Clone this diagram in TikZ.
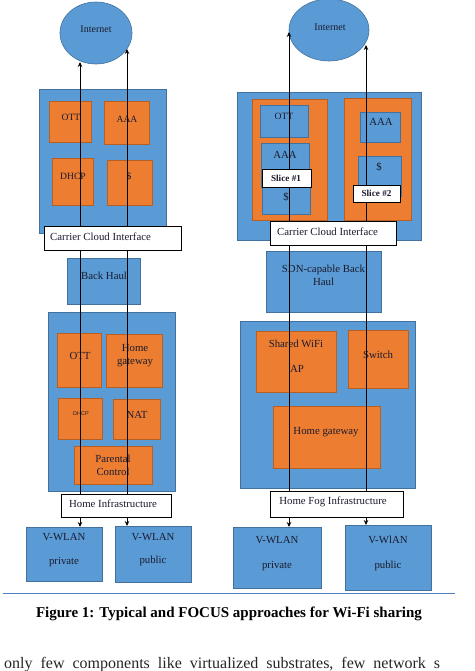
\documentclass[tikz,border=0pt]{standalone}
\usepackage{fontspec}
\setmainfont{Liberation Serif}
\newfontfamily\smallsans{Liberation Sans}
\usetikzlibrary{arrows.meta,shapes.geometric}
\definecolor{bfill}{HTML}{5B9BD5}
\definecolor{bdraw}{HTML}{41719C}
\definecolor{ofill}{HTML}{ED7D31}
\definecolor{odraw}{HTML}{B65F24}
\definecolor{tcol}{HTML}{1A1A2E}
\definecolor{rule}{HTML}{4F7FC0}
\tikzset{
  bluebox/.style={draw=bdraw,fill=bfill,line width=0.6pt,inner sep=0pt,outer sep=0pt,rectangle},
  orangebox/.style={draw=odraw,fill=ofill,line width=0.6pt,inner sep=0pt,outer sep=0pt,rectangle},
  whitebox/.style={draw=black,fill=white,line width=0.7pt,inner sep=0pt,outer sep=0pt,rectangle},
  cloud/.style={ellipse,draw=bdraw,fill=bfill,line width=0.6pt,inner sep=0pt,outer sep=0pt},
  txt/.style={text=tcol,font=\fontsize{10.8}{13}\selectfont,inner sep=0pt,align=center},
  stxt/.style={text=tcol,font=\fontsize{9.6}{11}\selectfont,inner sep=0pt,align=center},
  link/.style={draw=black,line width=0.9pt,{Stealth[length=5pt,width=4.5pt]}-{Stealth[length=5pt,width=4.5pt]}},
}
\begin{document}
\begin{tikzpicture}[x=1pt,y=-1pt]
\fill[white] (0,0) rectangle (474,671);
\useasboundingbox (0,0) rectangle (474,671);
%% ---------------- left (typical) ----------------
\node[cloud,minimum width=72pt,minimum height=62pt] (inet1) at (96,33) {};
\node[txt,font=\fontsize{10}{12}\selectfont] (inet1t) at (96,29) {Internet};
\node[bluebox,minimum width=127pt,minimum height=144pt] (cloud1) at (102.5,161) {};
\node[orangebox,minimum width=42pt,minimum height=41pt] (ott1) at (70,121.5) {};
\node[stxt] (ott1t) at (71,117) {OTT};
\node[orangebox,minimum width=45pt,minimum height=43pt] (aaa1) at (126.5,122.5) {};
\node[stxt] (aaa1t) at (127,119) {AAA};
\node[orangebox,minimum width=41pt,minimum height=47pt] (dhcp1) at (72.5,181.5) {};
\node[stxt] (dhcp1t) at (73,176) {DHCP};
\node[orangebox,minimum width=45pt,minimum height=45pt] (dol1) at (129.5,182.5) {};
\node[stxt] (dol1t) at (129,176) {\$};
\node[bluebox,minimum width=73pt,minimum height=46pt] (bh1) at (103.5,281) {};
\node[txt] (bh1t) at (104,276) {Back Haul};
\node[bluebox,minimum width=127pt,minimum height=179pt] (home1) at (111.5,401.5) {};
\node[orangebox,minimum width=44pt,minimum height=54pt] (ott1b) at (79,360) {};
\node[txt] (ott1bt) at (80,356) {OTT};
\node[orangebox,minimum width=56pt,minimum height=53pt] (hg1) at (134,360.5) {};
\node[txt] (hg1t) at (135,356) {Home\\gateway};
\node[orangebox,minimum width=44pt,minimum height=41pt] (dhcp1b) at (80,418.5) {};
\node[text=tcol,font=\smallsans\fontsize{5.5}{6}\selectfont,inner sep=0pt] (dhcp1bt) at (81,414) {DHCP};
\node[orangebox,minimum width=47pt,minimum height=40pt] (nat1) at (136.5,419) {};
\node[txt] (nat1t) at (137,415) {NAT};
\node[orangebox,minimum width=78pt,minimum height=38pt] (pc1) at (113,465) {};
\node[txt] (pc1t) at (113,465) {Parental\\Control};
\node[bluebox,minimum width=76pt,minimum height=54pt] (vp1) at (64,554) {};
\node[txt] (vp1t) at (64,537) {V-WLAN};
\node[txt] (vp1s) at (64,562) {private};
\node[bluebox,minimum width=76pt,minimum height=56pt] (vq1) at (153,554) {};
\node[txt] (vq1t) at (153,537) {V-WLAN};
\node[txt] (vq1s) at (153,561) {public};
%% ---------------- right (FOCUS) ----------------
\node[cloud,minimum width=80pt,minimum height=62pt] (inet2) at (329,30) {};
\node[txt,font=\fontsize{10}{12}\selectfont] (inet2t) at (330,27) {Internet};
\node[bluebox,minimum width=184pt,minimum height=148pt] (cloud2) at (329,166) {};
\node[orangebox,minimum width=75pt,minimum height=121pt] (sl1) at (289.5,159.5) {};
\node[orangebox,minimum width=67pt,minimum height=122pt] (sl2) at (377.5,159) {};
\node[bluebox,minimum width=48pt,minimum height=32pt] (ott2) at (284,121) {};
\node[stxt] (ott2t) at (284,116) {OTT};
\node[bluebox,minimum width=48pt,minimum height=44pt] (aaa2) at (285,165) {};
\node[txt] (aaa2t) at (285,155) {AAA};
\node[bluebox,minimum width=48pt,minimum height=27pt] (dol2) at (286,200.5) {};
\node[txt] (dol2t) at (286,197) {\$};
\node[bluebox,minimum width=40pt,minimum height=30pt] (aaa3) at (380,127) {};
\node[txt] (aaa3t) at (381,122) {AAA};
\node[bluebox,minimum width=43pt,minimum height=40pt] (dol3) at (379.5,176) {};
\node[txt] (dol3t) at (379,167) {\$};
\node[bluebox,minimum width=115pt,minimum height=61pt] (sdn) at (323.5,281.5) {};
\node[txt] (sdnt) at (323.5,275.5) {SDN-capable Back\\Haul};
\node[bluebox,minimum width=175pt,minimum height=167pt] (home2) at (327.5,404.5) {};
\node[orangebox,minimum width=80pt,minimum height=61pt] (wifi) at (296,361.5) {};
\node[txt] (wifit) at (296,344) {Shared WiFi};
\node[txt] (wifia) at (297,369) {AP};
\node[orangebox,minimum width=60pt,minimum height=58pt] (sw) at (378,359) {};
\node[txt] (swt) at (378,355) {Switch};
\node[orangebox,minimum width=107pt,minimum height=62pt] (hg2) at (326.5,437) {};
\node[txt] (hg2t) at (326,432) {Home gateway};
\node[bluebox,minimum width=88pt,minimum height=61pt] (vp2) at (277,557.5) {};
\node[txt] (vp2t) at (277,540) {V-WLAN};
\node[txt] (vp2s) at (277,566) {private};
\node[bluebox,minimum width=86pt,minimum height=65pt] (vq2) at (388,557.5) {};
\node[txt] (vq2t) at (388,540) {V-WlAN};
\node[txt] (vq2s) at (388,566) {public};
%% ---------------- connectors ----------------
\coordinate (t1) at (80,62);
\coordinate (t2) at (127,49);
\coordinate (t3) at (289,32);
\coordinate (t4) at (366,45);
\draw[link] (vp1.north -| t1) -- (t1);
\draw[link] (vq1.north -| t2) -- (t2);
\draw[link] (vp2.north -| t3) -- (t3);
\draw[link] (vq2.north -| t4) -- (t4);
%% ---------------- white labels on top ----------------
\node[whitebox,minimum width=137pt,minimum height=24pt] (cci1) at (112.5,238) {};
\node[txt,anchor=west] (cci1t) at (50,237) {Carrier Cloud Interface};
\node[whitebox,minimum width=110pt,minimum height=23pt] (hi1) at (116,505.5) {};
\node[txt] (hi1t) at (113,504) {Home Infrastructure};
\node[whitebox,minimum width=49pt,minimum height=18pt] (slice1) at (286.5,178) {};
\node[txt,font=\bfseries\fontsize{9.2}{11}\selectfont] (slice1t) at (286,178) {Slice \#1};
\node[whitebox,minimum width=47pt,minimum height=17pt] (slice2) at (376.5,193.5) {};
\node[txt,font=\bfseries\fontsize{9.2}{11}\selectfont] (slice2t) at (376.5,193.5) {Slice \#2};
\node[whitebox,minimum width=126pt,minimum height=24pt] (cci2) at (333,233) {};
\node[txt,anchor=west] (cci2t) at (277,232) {Carrier Cloud Interface};
\node[whitebox,minimum width=133pt,minimum height=26pt] (hfi) at (336.5,504) {};
\node[txt] (hfit) at (333,502) {Home Fog Infrastructure};
%% ---------------- caption ----------------
\draw[rule,line width=0.9pt] (3,593) -- (455,593);
\node[text=black,font=\bfseries\fontsize{15}{17}\selectfont,inner sep=0pt] (cap) at (229,614) {Figure 1: Typical and FOCUS approaches for Wi-Fi sharing};
\node[text=black!85,font=\fontsize{16}{18}\selectfont,inner sep=0pt,anchor=base west] (body) at (4,668.5) {only\ \ few\ \ components\ \ like\ \ virtualized\ \ substrates,\ \ few\ \ network\ \ s};
\end{tikzpicture}
\end{document}
